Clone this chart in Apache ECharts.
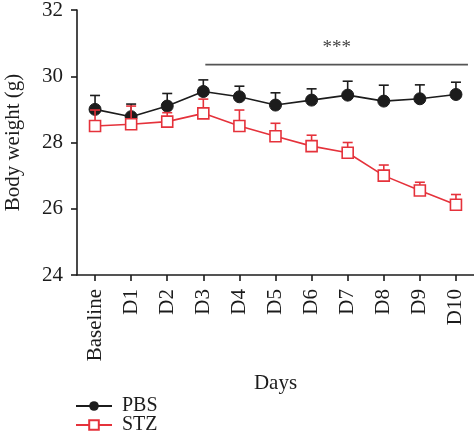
<!DOCTYPE html>
<html><head><meta charset="utf-8">
<script src="https://cdn.jsdelivr.net/npm/echarts@6/dist/echarts.min.js"></script>
<style>html,body{margin:0;padding:0;background:#fff}#c{width:474px;height:440px}</style>
</head><body><div id="c"></div>
<script>
const days = ['Baseline','D1','D2','D3','D4','D5','D6','D7','D8','D9','D10'];
const pbsMean = [29.0, 28.78, 29.1, 29.54, 29.38, 29.13, 29.28, 29.43, 29.25, 29.32, 29.45];
const pbsSem  = [0.42, 0.38, 0.38, 0.35, 0.32, 0.37, 0.34, 0.42, 0.48, 0.42, 0.37];
const stzMean = [28.5, 28.55, 28.63, 28.88, 28.5, 28.19, 27.89, 27.69, 27.0, 26.55, 26.12];
const stzSem  = [0.48, 0.55, 0.27, 0.43, 0.48, 0.39, 0.33, 0.31, 0.32, 0.25, 0.31];
const yMin = 24, yMax = 32, yStep = 2;
const sigLevel = 30.35;

const BLACK = '#1c1c1c', RED = '#e5323b', FONT = 'Liberation Serif';

function errItem(color){
  return function(params, api){
    const x = api.value(0), m = api.value(1), e = api.value(2);
    const p0 = api.coord([x, m]), p1 = api.coord([x, m + e]);
    const hw = 5;
    return {type:'group', children:[
      {type:'line', shape:{x1:p0[0],y1:p0[1],x2:p1[0],y2:p1[1]}, style:{stroke:color,lineWidth:1.6}},
      {type:'line', shape:{x1:p1[0]-hw,y1:p1[1],x2:p1[0]+hw,y2:p1[1]}, style:{stroke:color,lineWidth:1.6}}
    ]};
  };
}

const legendBase = {
  orient:'horizontal', left:70, itemWidth:36, itemHeight:12, padding:5,
  textStyle:{fontFamily:FONT, fontSize:20, color:BLACK, padding:[0,0,0,5]}
};

const chart = echarts.init(document.getElementById('c'), null, {renderer:'canvas'});
const option = {
  animation:false,
  backgroundColor:'#fff',
  textStyle:{fontFamily:FONT},
  grid:{left:77, right:0, top:10, bottom:165, containLabel:false, outerBoundsMode:'none'},
  legend:[
    Object.assign({}, legendBase, {top:391, data:['PBS']}),
    Object.assign({}, legendBase, {top:410, data:['STZ']})
  ],
  xAxis:{
    type:'category', data:days, boundaryGap:true,
    name:'Days', nameLocation:'middle', nameGap:98,
    nameTextStyle:{fontFamily:FONT, fontSize:21, color:BLACK},
    axisLine:{show:true, lineStyle:{color:BLACK, width:1.6}},
    axisTick:{show:true, alignWithLabel:true, length:6, lineStyle:{color:BLACK, width:1.6}},
    axisLabel:{rotate:90, margin:14, fontFamily:FONT, fontSize:21, color:BLACK}
  },
  yAxis:{
    type:'value', min:yMin, max:yMax, interval:yStep,
    name:'Body weight (g)', nameLocation:'middle', nameGap:53, nameRotate:90,
    nameTextStyle:{fontFamily:FONT, fontSize:21, color:BLACK},
    axisLine:{show:true, lineStyle:{color:BLACK, width:1.6}},
    axisTick:{show:true, length:6, lineStyle:{color:BLACK, width:1.6}},
    axisLabel:{margin:14, fontFamily:FONT, fontSize:21, color:BLACK},
    splitLine:{show:false}
  },
  series:[
    {type:'custom', name:'pbsErr', renderItem:errItem(BLACK), z:1,
     data:days.map((d,i)=>[i, pbsMean[i], pbsSem[i]])},
    {type:'line', name:'PBS', data:pbsMean, z:2,
     symbol:'circle', symbolSize:12, showAllSymbol:true,
     lineStyle:{color:BLACK, width:1.6}, itemStyle:{color:BLACK, borderColor:BLACK}},
    {type:'custom', name:'stzErr', renderItem:errItem(RED), z:3,
     data:days.map((d,i)=>[i, stzMean[i], stzSem[i]])},
    {type:'line', name:'STZ', data:stzMean, z:4,
     symbol:'rect', symbolSize:11, showAllSymbol:true,
     lineStyle:{color:RED, width:1.6}, itemStyle:{color:'#fff', borderColor:RED, borderWidth:1.6}}
  ]
};
chart.setOption(option);

const pStart = chart.convertToPixel({xAxisIndex:0, yAxisIndex:0}, [3, sigLevel]);
const pEnd = chart.convertToPixel({xAxisIndex:0, yAxisIndex:0}, [10, sigLevel]);
const x1 = pStart[0] + 2, x2 = pEnd[0] + 12, y = pStart[1];
chart.setOption({graphic:[
  {type:'line', shape:{x1:x1, y1:y, x2:x2, y2:y}, style:{stroke:'#555', lineWidth:1.6}},
  {type:'text', x:(x1+x2)/2, y:y-7, style:{text:'***', fontFamily:FONT, fontSize:19, fill:'#444', textAlign:'center', textVerticalAlign:'bottom'}}
]});
</script>
</body></html>
